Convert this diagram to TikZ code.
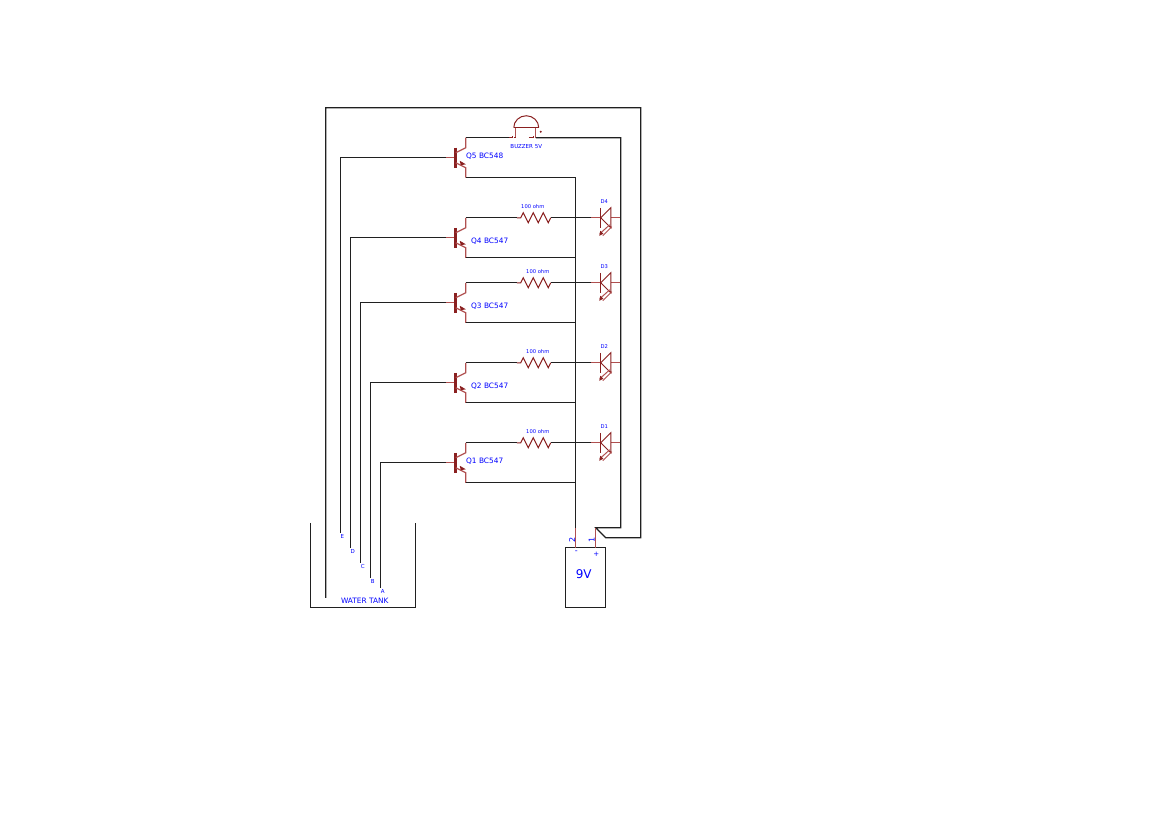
\documentclass[tikz,border=0pt]{standalone}
\usepackage{fontspec}
\setmainfont{DejaVu Sans}
\definecolor{sym}{HTML}{8A2020}
\definecolor{pin}{HTML}{B05050}
\definecolor{lab}{HTML}{0000FF}
\definecolor{wirec}{HTML}{202020}
\newcommand{\fs}[1]{\fontsize{#1}{#1}\selectfont}
\tikzset{
 x=0.5pt,y=-0.5pt,
 wire/.style={draw=wirec,line width=0.6pt,line join=miter},
 body/.style={draw=sym,line width=0.5pt},
 pinline/.style={draw=pin,line width=0.65pt},
 lbl/.style={text=lab,inner sep=0pt,font=\fs{3.7}},
 tiny/.style={text=lab,inner sep=0pt,font=\fs{2.75}},
}
% #1 name, #2 centre y, #3 label, #4 label x, #5 label y
\newcommand{\transistor}[5]{%
 \coordinate (#1b) at (446,#2);
 \coordinate (#1c) at (466,#2-20);
 \coordinate (#1e) at (466,#2+20);
 \draw[pinline] (#1b) -- (456,#2);
 \draw[sym,line width=1.7pt] (456,#2-10) -- (456,#2+10);
 \draw[pinline] (456,#2-5) -- (466,#2-10) -- (#1c);
 \draw[pinline] (456,#2+5) -- (466,#2+10) -- (#1e);
 \fill[sym] (466,#2+6.5) -- (460,#2+3) -- (461,#2+7.5) -- cycle;
 \node[lbl,anchor=west] (#1t) at (#4,#5) {#3};
}
% #1 name, #2 y, #3 centre x of label
\newcommand{\resistor}[3]{%
 \coordinate (#1a) at (521,#2);
 \coordinate (#1z) at (551,#2);
 \draw[body] (517,#2) -- (#1a) -- (523.5,#2-5) -- (528.5,#2+5) -- (533.5,#2-5) -- (538.5,#2+5) -- (543.5,#2-5) -- (548.5,#2+5) -- (#1z);
 \node[tiny,font=\fs{2.6}] (#1t) at (#3,#2-11.5) {100 ohm};
}
% #1 name, #2 y
\newcommand{\led}[2]{%
 \coordinate (#1k) at (591,#2);
 \coordinate (#1a) at (621,#2);
 \draw[pinline] (#1k) -- (601,#2);
 \draw[pinline] (611,#2) -- (#1a);
 \draw[body] (601,#2-10) -- (601,#2+10);
 \draw[body] (611,#2-10) -- (601,#2) -- (611,#2+10) -- cycle;
 \draw[pinline,line width=0.5pt] (610,#2+7) -- (600,#2+16);
 \draw[pinline,line width=0.5pt] (612,#2+9) -- (603,#2+18);
 \fill[sym] (599.5,#2+18) -- (600.5,#2+13) -- (603.5,#2+16) -- cycle;
 \node[tiny,font=\fs{2.6}] (#1t) at (604.5,#2-16.5) {#1};
}
\begin{document}
\begin{tikzpicture}
\useasboundingbox (0.25,0.25) rectangle (1172.25,829.25);

\transistor{Qa}{463}{Q1 BC547}{466}{461.5}
\transistor{Qb}{383}{Q2 BC547}{471}{386.5}
\transistor{Qc}{303}{Q3 BC547}{471}{306.5}
\transistor{Qd}{238}{Q4 BC547}{471}{241.5}
\transistor{Qe}{158}{Q5 BC548}{466}{156.5}

\resistor{Ra}{443}{538}
\resistor{Rb}{363}{538}
\resistor{Rc}{283}{538}
\resistor{Rd}{218}{533}

\led{D1}{443}
\led{D2}{363}
\led{D3}{283}
\led{D4}{218}

% buzzer
\coordinate (BZl) at (509,138);
\coordinate (BZr) at (536,138);
\draw[body] (514,128) arc[start angle=180,end angle=0,x radius=12.5,y radius=-12];
\draw[body] (514,128) -- (539,128);
\draw[pinline] (516,128) -- (516,138);
\draw[pinline] (536,128) -- (BZr);
\draw[body] (BZl) -- (513,138) -- (513,136) (514,138) -- (516,138);
\draw[body] (529,138) -- (534,138) -- (534,136);
\fill[sym] (541,132) circle[radius=1.2];
\node[tiny] (BZt) at (526.5,146.5) {BUZZER 5V};

% battery
\node[draw=wirec,line width=0.6pt,minimum width=20pt,minimum height=30pt,inner sep=0pt] (BT) at (586,578) {};
\node[text=lab,inner sep=0pt,font=\fs{6}] (BTv) at (584,574.5) {9V};
\coordinate (BTm) at (576,548);
\coordinate (BTp) at (596,548);
\coordinate (BTmtop) at (576,528);
\coordinate (BTptop) at (596,528);
\node[lbl,rotate=90,font=\fs{4}] (P2) at (572.5,540) {2};
\node[lbl,rotate=90,font=\fs{4}] (P1) at (592,540) {1};
\node[lbl,font=\fs{4}] (Mn) at (576.5,552) {-};
\node[lbl,font=\fs{3.5}] (Pl) at (596.5,554.5) {+};

% tank
\coordinate (Tl) at (311,523);
\coordinate (Tbl) at (311,608);
\coordinate (Tbr) at (416,608);
\coordinate (Tr) at (416,523);
\draw[wire] (Tl) -- (Tbl) -- (Tbr) -- (Tr);
\node[lbl] (TK) at (365,601) {WATER TANK};

% probes
\coordinate (PA) at (381,588);
\coordinate (PB) at (371,578);
\coordinate (PC) at (361,563);
\coordinate (PD) at (351,548);
\coordinate (PE) at (341,533);
\coordinate (PG) at (326,598);
\node[tiny] (LA) at (383,591.5) {A};
\node[tiny] (LB) at (373,581.5) {B};
\node[tiny] (LC) at (363,566.5) {C};
\node[tiny] (LD) at (353,551.5) {D};
\node[tiny] (LE) at (342.5,536.5) {E};

\draw[wire] (PA) |- (Qab);
\draw[wire] (PB) |- (Qbb);
\draw[wire] (PC) |- (Qcb);
\draw[wire] (PD) |- (Qdb);
\draw[wire] (PE) |- (Qeb);

% collectors to resistors and on to the LEDs
\draw[wire] (Qac) -- (517,443);
\draw[wire] (Qbc) -- (517,363);
\draw[wire] (Qcc) -- (517,283);
\draw[wire] (Qdc) -- (517,218);
\draw[wire] (Raz) -- (D1k);
\draw[wire] (Rbz) -- (D2k);
\draw[wire] (Rcz) -- (D3k);
\draw[wire] (Rdz) -- (D4k);

% common negative rail
\coordinate (RailT) at (576,178);
\draw[wire] (Qee) -- (RailT) -- (BTmtop);
\draw[wire] (Qde) -- (Qde -| RailT);
\draw[wire] (Qce) -- (Qce -| RailT);
\draw[wire] (Qbe) -- (Qbe -| RailT);
\draw[wire] (Qae) -- (Qae -| RailT);

% positive rail and outer loop
\draw[wire] (Qec) -- (BZl);
\draw[wire] (BZr) -- (621,138) -- (621,528) -- (BTptop) -- (606,538) -- (641,538) -- (641,108) -- (326,108) -- (PG);

% battery pins, over the wires
\draw[pinline] (BTm) -- (BTmtop);
\draw[pinline] (BTp) -- (BTptop);
\end{tikzpicture}
\end{document}
